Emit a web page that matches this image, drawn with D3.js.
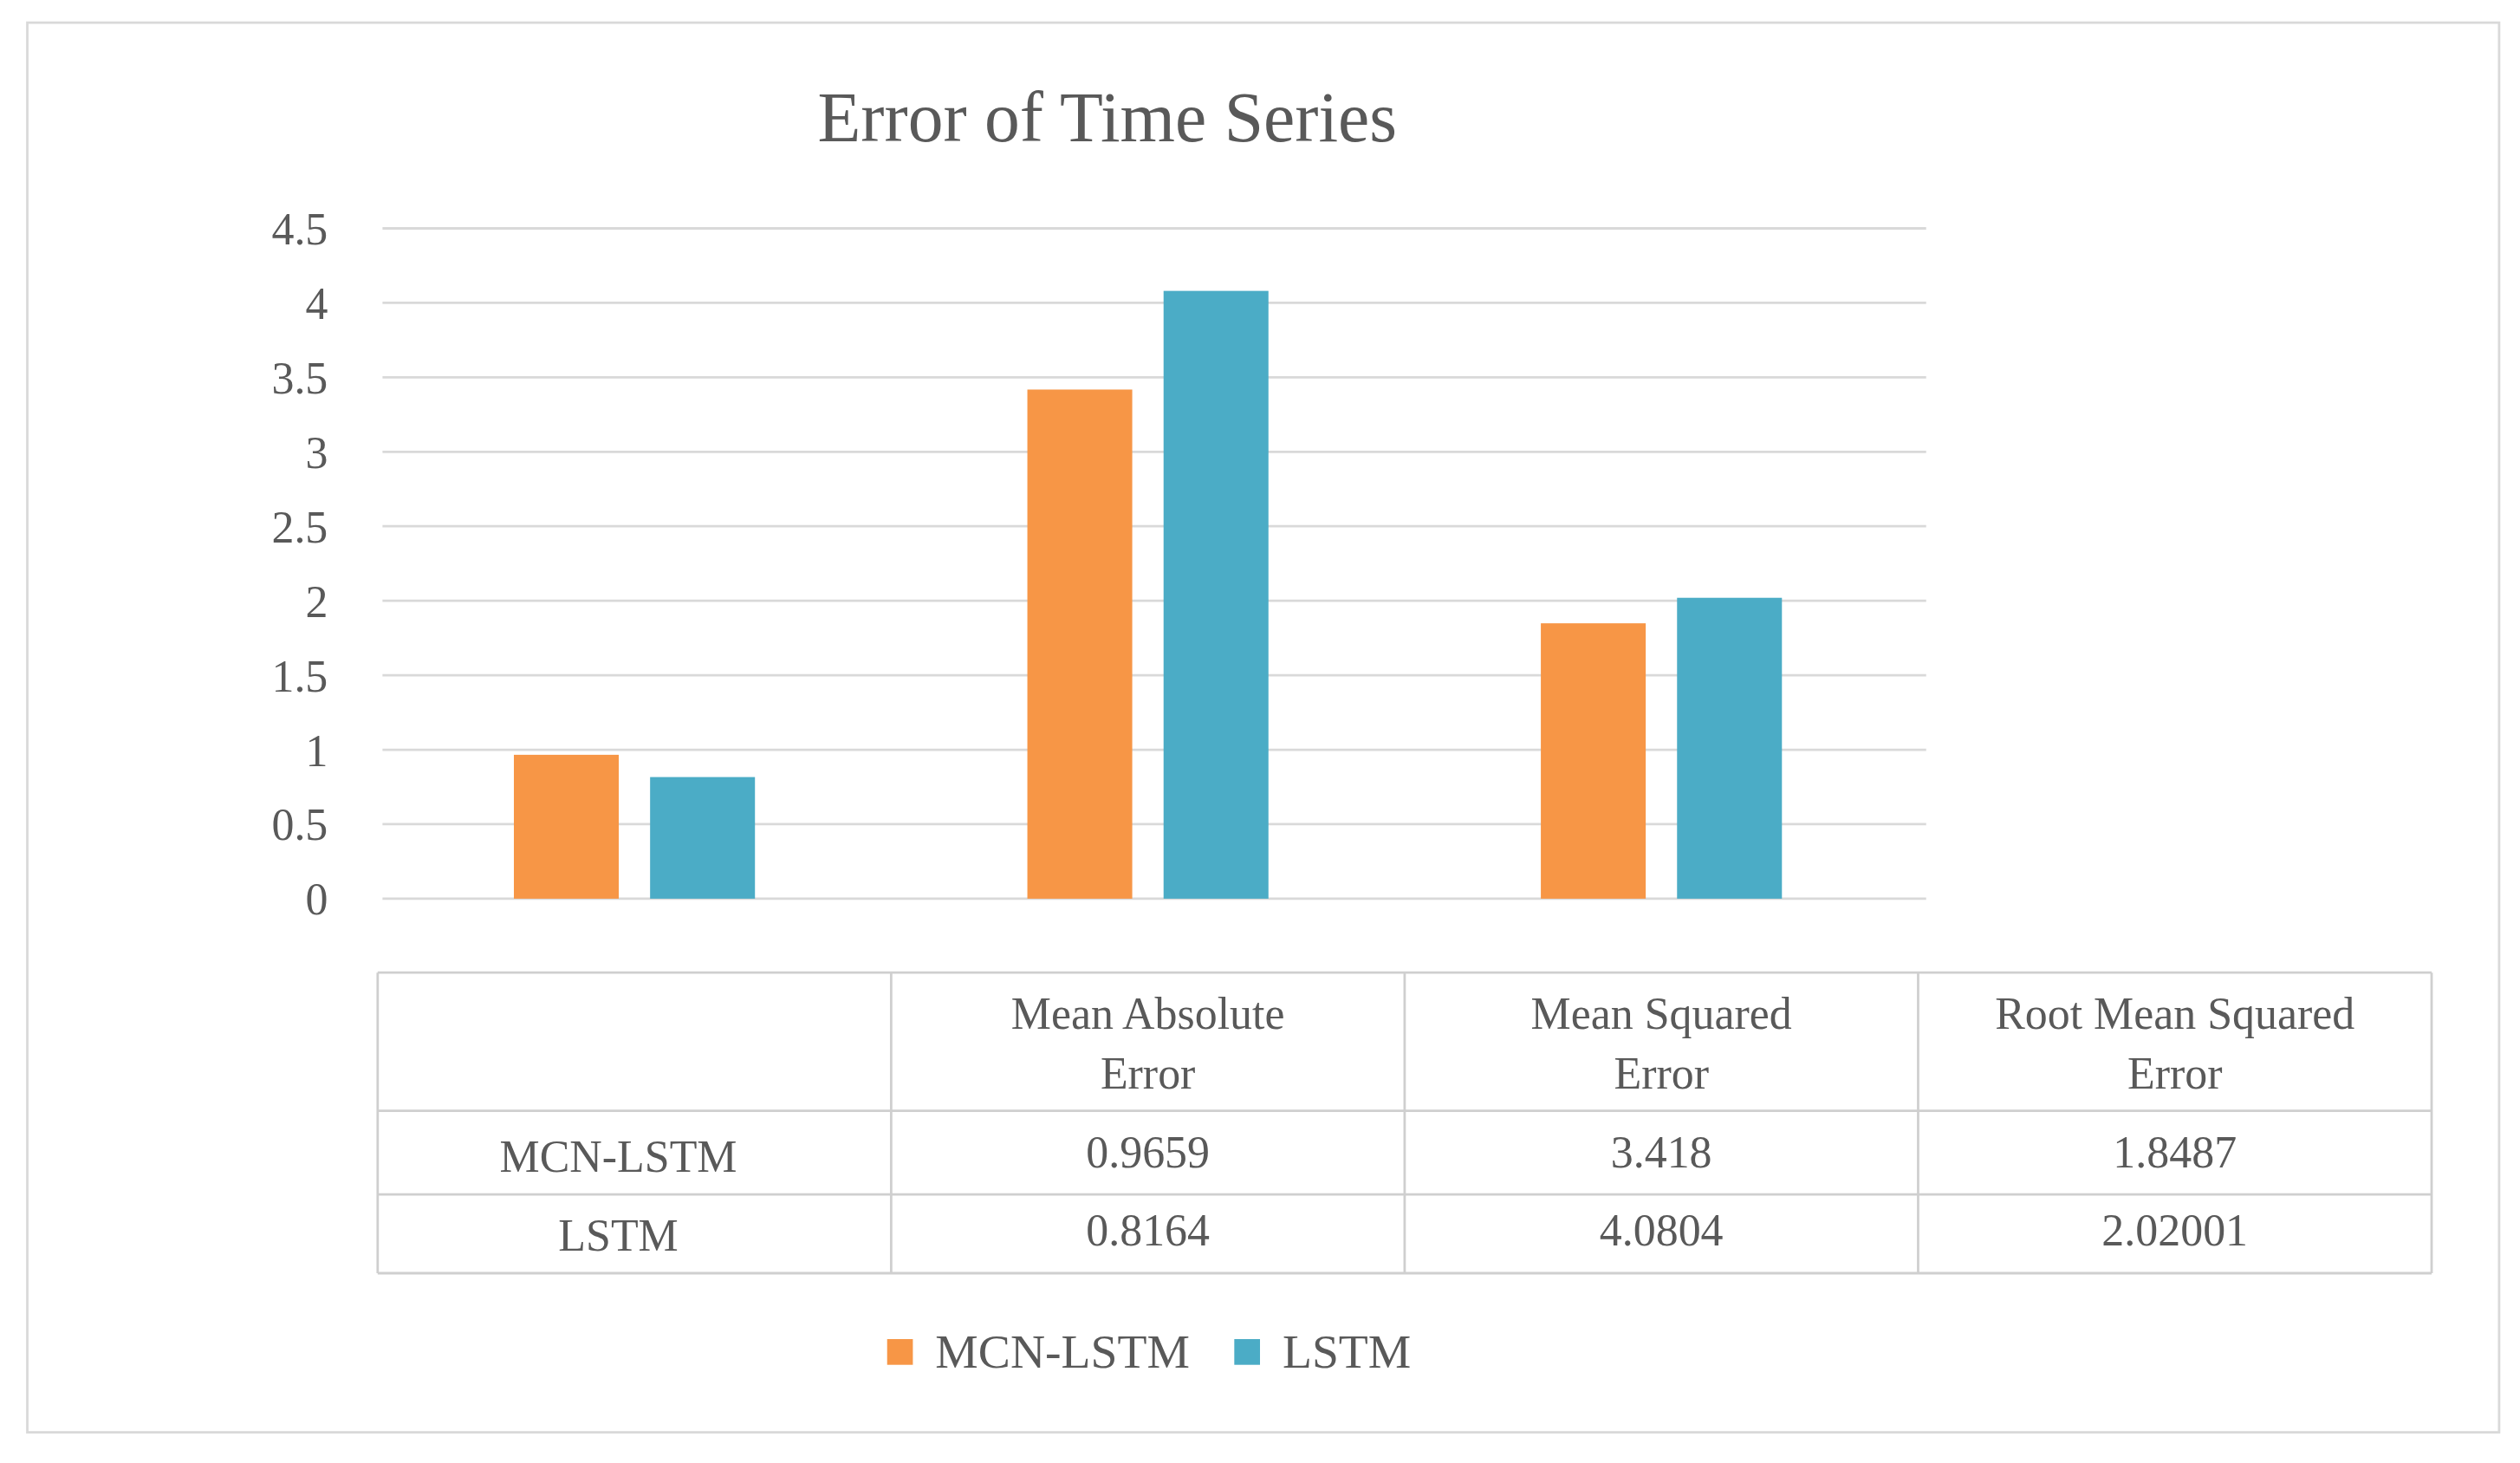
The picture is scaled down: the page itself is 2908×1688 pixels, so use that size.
<!DOCTYPE html>
<html><head><meta charset="utf-8">
<script src="https://cdn.jsdelivr.net/npm/d3@7"></script>
<style>body{margin:0;background:#fff}svg{display:block}</style>
</head><body><div id="chart"></div>
<script>
const columns = ['', 'Mean Absolute Error', 'Mean Squared Error', 'Root Mean Squared Error'];
const headerLines = [[], ['Mean Absolute', 'Error'], ['Mean Squared', 'Error'], ['Root Mean Squared', 'Error']];
const seriesNames = ['MCN-LSTM', 'LSTM'];
const mcnLstm = [0.9659, 3.418, 1.8487];
const lstm = [0.8164, 4.0804, 2.02001];
const tableRows = [['0.9659', '3.418', '1.8487'], ['0.8164', '4.0804', '2.02001']];
const yTicks = [0, 0.5, 1, 1.5, 2, 2.5, 3, 3.5, 4, 4.5];
const colors = ['#F79646', '#4BACC6'];

const W = 1568, H = 910;
const svg = d3.select('#chart').append('svg')
  .attr('width', 2908).attr('height', 1688)
  .attr('viewBox', `0 0 ${W} ${H}`)
  .style('font-family', '"Liberation Serif", serif');

svg.append('rect').attr('x', 17).attr('y', 14).attr('width', 1538).attr('height', 877)
  .attr('fill', '#fff').attr('stroke', '#d9d9d9').attr('stroke-width', 1.5);

svg.append('text').attr('x', 689).attr('y', 88).attr('text-anchor', 'middle')
  .attr('font-size', 44).attr('fill', '#595959').text('Error of Time Series');

// x bands follow table columns; bars sit in the first three
const x = d3.scaleBand().domain(d3.range(4)).range([235, 1513]);
const y = d3.scaleLinear().domain([0, 4.5]).range([559, 142]);

svg.append('g').selectAll('line').data(yTicks).join('line')
  .attr('x1', 238).attr('x2', x(3) + 5)
  .attr('y1', d => y(d)).attr('y2', d => y(d))
  .attr('stroke', '#d9d9d9').attr('stroke-width', 1.5);

svg.append('g').selectAll('text').data(yTicks).join('text')
  .attr('x', 204).attr('y', d => y(d) + 10).attr('text-anchor', 'end')
  .attr('font-size', 28).attr('fill', '#595959').text(d => d);

const x1 = d3.scaleBand().domain([0, 1]).range([0, x.bandwidth()]).paddingInner(0.23).paddingOuter(1.0);
[mcnLstm, lstm].forEach((vals, s) => {
  svg.append('g').selectAll('rect').data(vals).join('rect')
    .attr('x', (d, i) => x(i) + x1(s))
    .attr('width', x1.bandwidth())
    .attr('y', d => y(d)).attr('height', d => y(0) - y(d))
    .attr('fill', colors[s]);
});

// data table
const rowY = [605, 691, 743, 792];
const tg = svg.append('g').attr('stroke', '#cfcfcf').attr('stroke-width', 1.5);
rowY.forEach(ry => tg.append('line').attr('x1', 235).attr('x2', 1513).attr('y1', ry).attr('y2', ry));
d3.range(5).forEach(i => {
  const cx = i < 4 ? x(i) : 1513;
  tg.append('line').attr('x1', cx).attr('x2', cx).attr('y1', 605).attr('y2', 792);
});
const mid = i => x(i) + x.bandwidth() / 2;
headerLines.forEach((lines, i) => lines.forEach((t, j) =>
  svg.append('text').attr('x', mid(i)).attr('y', 640 + j * 37).attr('text-anchor', 'middle')
    .attr('font-size', 28).attr('fill', '#595959').text(t)));
seriesNames.forEach((n, r) => {
  svg.append('text').attr('x', mid(0) - 10).attr('y', 729 + r * 49).attr('text-anchor', 'middle')
    .attr('font-size', 28).attr('fill', '#595959').text(n);
  tableRows[r].forEach((v, c) =>
    svg.append('text').attr('x', mid(c + 1)).attr('y', 726 + r * 49).attr('text-anchor', 'middle')
      .attr('font-size', 28).attr('fill', '#595959').text(v));
});

// legend
const legX = [552, 768];
seriesNames.forEach((n, i) => {
  svg.append('rect').attr('x', legX[i]).attr('y', 833).attr('width', 16).attr('height', 16).attr('fill', colors[i]);
  svg.append('text').attr('x', legX[i] + 30).attr('y', 851).attr('font-size', 30).attr('fill', '#595959').text(n);
});
</script></body></html>
